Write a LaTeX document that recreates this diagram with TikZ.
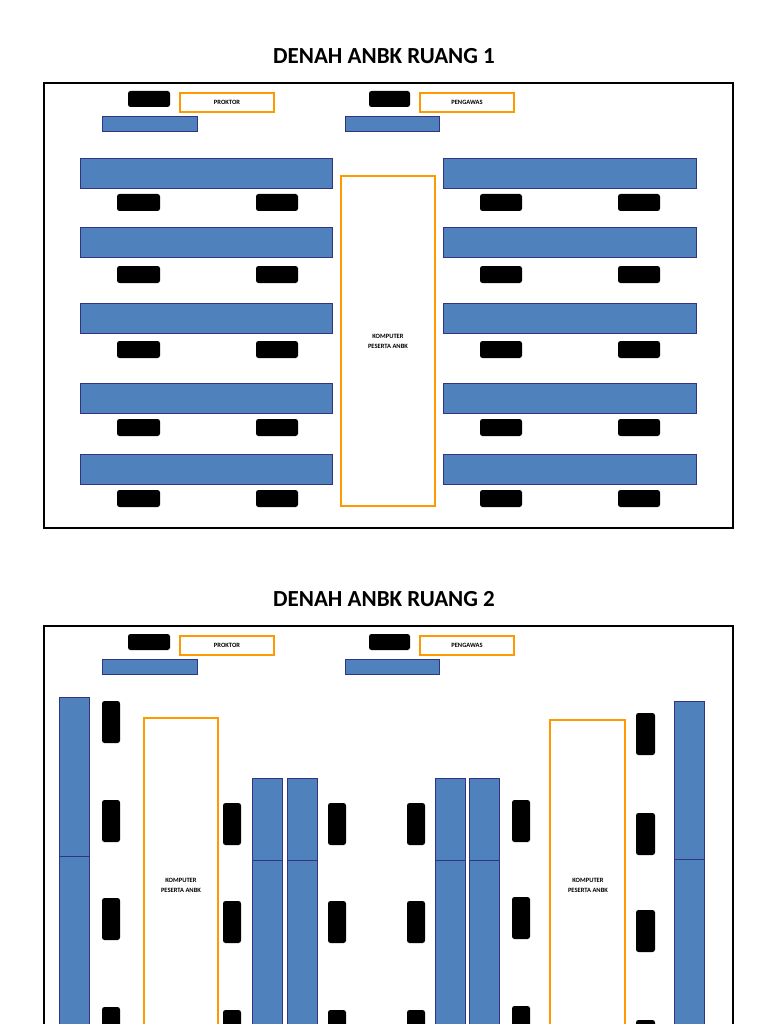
\documentclass[tikz,border=0pt]{standalone}
\usepackage{fontspec}
\setmainfont{Carlito}
\begin{document}
\begin{tikzpicture}[x=1pt,y=-1pt,
  desk/.style={draw=blue!40!black!80, fill=deskblue, line width=0.8pt},
  chair/.style={fill=black, rounded corners=2.5pt},
  obox/.style={draw=orange!80!yellow, line width=1.2pt, fill=white},
  lbl/.style={font=\bfseries\fontsize{6.5}{8}\selectfont, align=center},
  ttl/.style={font=\bfseries\fontsize{23}{26}\selectfont},
  frame/.style={draw=black, line width=1.5pt}]
\definecolor{deskblue}{HTML}{4F81BD}
\useasboundingbox (0,0) rectangle (768,1024);
\clip (0,0) rectangle (768,1024);
\fill[white] (0,0) rectangle (768,1024);
% ===== Room 1 =====
\node[ttl] (t1) at (384,56) {DENAH ANBK RUANG 1};
\draw[frame] (44,83) rectangle (733,528);
\fill[chair] (128,91) rectangle (170,107);
\draw[obox] (180,93) rectangle (274,112); \node[lbl] (p1) at (227,102.5) {PROKTOR};
\draw[desk] (102,116) rectangle (197,131);
\fill[chair] (369,91) rectangle (410,107);
\draw[obox] (420,93) rectangle (514,112); \node[lbl] (g1) at (467,102.5) {PENGAWAS};
\draw[desk] (345,116) rectangle (439,131);
\foreach \dy/\cy in {158/194,227/266,303/341,383/419,454/490}{
  \draw[desk] (80,\dy) rectangle (332,\dy+30);
  \draw[desk] (443,\dy) rectangle (696,\dy+30);
  \fill[chair] (117,\cy) rectangle (160,\cy+17);
  \fill[chair] (256,\cy) rectangle (298,\cy+17);
  \fill[chair] (480,\cy) rectangle (522,\cy+17);
  \fill[chair] (618,\cy) rectangle (660,\cy+17);
}
\draw[obox] (341,176) rectangle (435,506);
\node[lbl] (k1) at (388,341) {KOMPUTER\\[2pt]PESERTA ANBK};
% ===== Room 2 =====
\node[ttl] (t2) at (384,599) {DENAH ANBK RUANG 2};
\draw[frame] (44,626) rectangle (733,1040);
\fill[chair] (128,634) rectangle (170,650);
\draw[obox] (180,636) rectangle (274,655); \node[lbl] (p2) at (227,645.5) {PROKTOR};
\draw[desk] (102,659) rectangle (197,674);
\fill[chair] (369,634) rectangle (410,650);
\draw[obox] (420,636) rectangle (514,655); \node[lbl] (g2) at (467,645.5) {PENGAWAS};
\draw[desk] (345,659) rectangle (439,674);
% left wall desks
\draw[desk] (59,697) rectangle (89,856);
\draw[desk] (59,856) rectangle (89,1040);
\foreach \y in {701,800,898,1007} \fill[chair] (102,\y) rectangle (120,\y+42);
\draw[obox] (144,718) rectangle (218,1040);
\node[lbl] (k2) at (181,885) {KOMPUTER\\[2pt]PESERTA ANBK};
\foreach \y in {803,901,1010} {\fill[chair] (223,\y) rectangle (241,\y+42);
  \fill[chair] (328,\y) rectangle (346,\y+42);
  \fill[chair] (407,\y) rectangle (425,\y+42);}
\foreach \x in {252,287,435,469}{
  \draw[desk] (\x,778) rectangle (\x+30,860);
  \draw[desk] (\x,860) rectangle (\x+30,1040);}
\foreach \y in {800,897,1006} \fill[chair] (512,\y) rectangle (530,\y+42);
\draw[obox] (550,720) rectangle (625,1040);
\node[lbl] (k3) at (588,885) {KOMPUTER\\[2pt]PESERTA ANBK};
\foreach \y in {713,813,910,1020} \fill[chair] (636,\y) rectangle (655,\y+42);
\draw[desk] (674,701) rectangle (704,859);
\draw[desk] (674,859) rectangle (704,1040);
\end{tikzpicture}
\end{document}
